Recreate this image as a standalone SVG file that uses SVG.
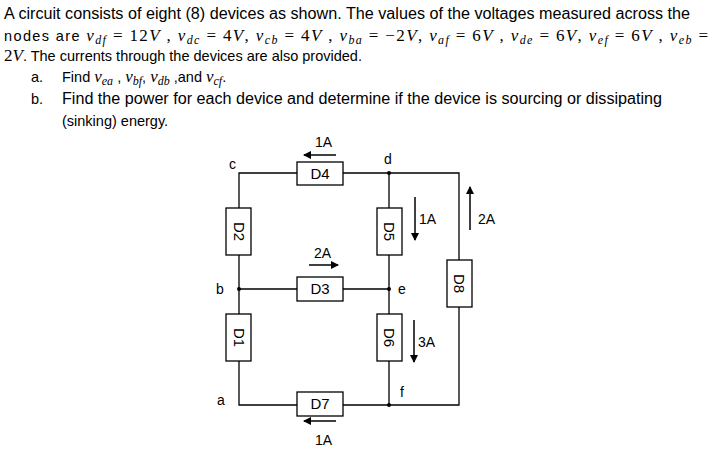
<svg xmlns="http://www.w3.org/2000/svg" width="712" height="449" viewBox="0 0 712 449">
<style>
.t{font-family:"Liberation Sans",sans-serif;font-size:16px;fill:#000}
.u{font-size:14.5px}
.m{font-family:"Liberation Serif",serif;font-style:italic;font-size:17px}
.n{font-family:"Liberation Serif",serif;font-size:17px}
.s{font-size:12px}
.w{stroke:#000;stroke-width:1.3;fill:none}
.b{fill:#fff;stroke:#000;stroke-width:1.3}
.l{font-family:"Liberation Sans",Arial,sans-serif;font-size:14px;fill:#000}
.d{font-family:"Liberation Sans",Arial,sans-serif;font-size:15px;fill:#000}
.a{stroke:#000;stroke-width:1.5;fill:none;marker-end:url(#ah)}
</style>
<defs><marker id="ah" markerWidth="8" markerHeight="8" refX="7" refY="4" orient="auto" markerUnits="userSpaceOnUse"><path d="M0,0 L8,4 L0,8 Z" fill="#000"/></marker></defs>
<rect width="712" height="449" fill="#fff"/>
<text class="t" x="4" y="19" textLength="686" lengthAdjust="spacingAndGlyphs">A circuit consists of eight (8) devices as shown.  The values of the voltages measured across the</text>
<text class="t u" x="4" y="41" textLength="704" lengthAdjust="spacing">nodes are <tspan class="m">v</tspan><tspan class="m s" dy="3">df</tspan><tspan class="n" dy="-3"> = 12</tspan><tspan class="m">V</tspan><tspan class="n"> , </tspan><tspan class="m">v</tspan><tspan class="m s" dy="3">dc</tspan><tspan class="n" dy="-3"> = 4</tspan><tspan class="m">V</tspan><tspan class="n">, </tspan><tspan class="m">v</tspan><tspan class="m s" dy="3">cb</tspan><tspan class="n" dy="-3"> = 4</tspan><tspan class="m">V</tspan><tspan class="n"> , </tspan><tspan class="m">v</tspan><tspan class="m s" dy="3">ba</tspan><tspan class="n" dy="-3"> = −2</tspan><tspan class="m">V</tspan><tspan class="n">, </tspan><tspan class="m">v</tspan><tspan class="m s" dy="3">af</tspan><tspan class="n" dy="-3"> = 6</tspan><tspan class="m">V</tspan><tspan class="n"> , </tspan><tspan class="m">v</tspan><tspan class="m s" dy="3">de</tspan><tspan class="n" dy="-3"> = 6</tspan><tspan class="m">V</tspan><tspan class="n">, </tspan><tspan class="m">v</tspan><tspan class="m s" dy="3">ef</tspan><tspan class="n" dy="-3"> = 6</tspan><tspan class="m">V</tspan><tspan class="n"> , </tspan><tspan class="m">v</tspan><tspan class="m s" dy="3">eb</tspan><tspan class="n" dy="-3"> =</tspan></text>
<text class="t u" x="4" y="61"><tspan class="n">2</tspan><tspan class="m">V</tspan>.  The currents through the devices are also provided.</text>
<text class="t u" x="31" y="82">a.</text>
<text class="t u" x="62" y="82">Find <tspan class="m">v</tspan><tspan class="m s" dy="3">ea</tspan><tspan dy="-3"> , </tspan><tspan class="m">v</tspan><tspan class="m s" dy="3">bf</tspan><tspan dy="-3">, </tspan><tspan class="m">v</tspan><tspan class="m s" dy="3">db</tspan><tspan dy="-3"> ,and </tspan><tspan class="m">v</tspan><tspan class="m s" dy="3">cf</tspan><tspan dy="-3">.</tspan></text>
<text class="t u" x="31" y="104">b.</text>
<text class="t" x="62" y="104" textLength="600" lengthAdjust="spacingAndGlyphs">Find the power for each device and determine if the device is sourcing or dissipating</text>
<text class="t u" x="62" y="126">(sinking) energy.</text>
<g id="connectors">
<path class="w" d="M239,173 H459 V405 H239 Z M239,289 H389 M389,173 V405"/>
<circle cx="389" cy="173" r="2"/><circle cx="239" cy="289" r="2"/><circle cx="389" cy="289" r="2"/><circle cx="389" cy="405" r="2"/>
<line class="a" x1="336" y1="155" x2="304" y2="155"/>
<line class="a" x1="309" y1="265" x2="338" y2="265"/>
<line class="a" x1="336" y1="421" x2="304" y2="421"/>
<line class="a" x1="415" y1="197" x2="415" y2="240"/>
<line class="a" x1="414" y1="320" x2="414" y2="362"/>
<line class="a" x1="470" y1="230" x2="470" y2="187"/>
<text class="l" x="315" y="147">1A</text>
<text class="l" x="314" y="258">2A</text>
<text class="l" x="315" y="445">1A</text>
<text class="l" x="419" y="224">1A</text>
<text class="l" x="418" y="347">3A</text>
<text class="l" x="478" y="224">2A</text>
<text class="l" x="229" y="169">c</text>
<text class="l" x="384" y="164">d</text>
<text class="l" x="216" y="294">b</text>
<text class="l" x="398" y="294">e</text>
<text class="l" x="217" y="405">a</text>
<text class="l" x="400" y="397">f</text>
</g>
<g id="D4"><rect class="b" x="297" y="162" width="46" height="23"/><text class="d" x="320" y="179" text-anchor="middle">D4</text></g>
<g id="D3"><rect class="b" x="297" y="277" width="46" height="24"/><text class="d" x="320" y="294" text-anchor="middle">D3</text></g>
<g id="D7"><rect class="b" x="297" y="392" width="46" height="24"/><text class="d" x="320" y="409" text-anchor="middle">D7</text></g>
<g id="D2"><rect class="b" x="226" y="208" width="25" height="47"/><text class="d" transform="translate(239,231.5) rotate(90)" x="0" y="5" text-anchor="middle">D2</text></g>
<g id="D1"><rect class="b" x="226" y="314" width="25" height="47"/><text class="d" transform="translate(239,337.5) rotate(90)" x="0" y="5" text-anchor="middle">D1</text></g>
<g id="D5"><rect class="b" x="377" y="208" width="25" height="47"/><text class="d" transform="translate(389,231.5) rotate(90)" x="0" y="5" text-anchor="middle">D5</text></g>
<g id="D6"><rect class="b" x="377" y="314" width="25" height="47"/><text class="d" transform="translate(389,337.5) rotate(90)" x="0" y="5" text-anchor="middle">D6</text></g>
<g id="D8"><rect class="b" x="447" y="260" width="25" height="47"/><text class="d" transform="translate(459,283.5) rotate(90)" x="0" y="5" text-anchor="middle">D8</text></g>
</svg>
